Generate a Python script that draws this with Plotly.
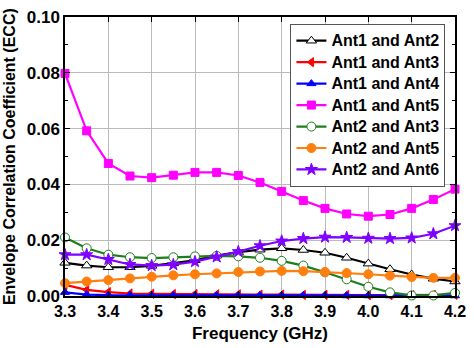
import plotly.graph_objects as go

freq = [3.30, 3.35, 3.40, 3.45, 3.50, 3.55, 3.60, 3.65, 3.70, 3.75,
        3.80, 3.85, 3.90, 3.95, 4.00, 4.05, 4.10, 4.15, 4.20]

ant1_ant2 = [0.0119, 0.0109, 0.0103, 0.0103, 0.0108, 0.0117, 0.0128, 0.0145, 0.0157, 0.0166,
             0.0171, 0.0165, 0.0155, 0.0137, 0.0116, 0.0096, 0.0077, 0.0062, 0.0052]
ant1_ant3 = [0.0040, 0.0022, 0.0014, 0.0009, 0.0008, 0.0007, 0.0007, 0.0006, 0.0006, 0.0005,
             0.0005, 0.0004, 0.0004, 0.0004, 0.0003, 0.0003, 0.0003, 0.0004, 0.0004]
ant1_ant4 = [0.0013, 0.0005, 0.0003, 0.0003, 0.0002, 0.0002, 0.0002, 0.0002, 0.0002, 0.0002,
             0.0002, 0.0002, 0.0002, 0.0001, 0.0001, 0.0001, 0.0001, 0.0001, 0.0001]
ant1_ant5 = [0.0798, 0.0592, 0.0475, 0.0430, 0.0424, 0.0433, 0.0443, 0.0443, 0.0432, 0.0407,
             0.0375, 0.0342, 0.0314, 0.0294, 0.0286, 0.0292, 0.0314, 0.0346, 0.0383]
ant2_ant3 = [0.0210, 0.0171, 0.0148, 0.0139, 0.0136, 0.0139, 0.0142, 0.0144, 0.0142, 0.0137,
             0.0126, 0.0109, 0.0085, 0.0060, 0.0033, 0.0013, 0.0002, 0.0002, 0.0011]
ant2_ant5 = [0.0046, 0.0052, 0.0057, 0.0063, 0.0069, 0.0074, 0.0078, 0.0081, 0.0086, 0.0088,
             0.0090, 0.0089, 0.0086, 0.0082, 0.0078, 0.0073, 0.0068, 0.0065, 0.0065]
ant2_ant6 = [0.0148, 0.0148, 0.0131, 0.0113, 0.0109, 0.0112, 0.0123, 0.0140, 0.0159, 0.0180,
             0.0197, 0.0206, 0.0211, 0.0210, 0.0207, 0.0206, 0.0208, 0.0223, 0.0252]

x_ticks = [3.3, 3.4, 3.5, 3.6, 3.7, 3.8, 3.9, 4.0, 4.1, 4.2]
y_ticks = [0.00, 0.02, 0.04, 0.06, 0.08, 0.10]
y_minor = [0.01, 0.03, 0.05, 0.07, 0.09]

series = [
    ("Ant1 and Ant2", ant1_ant2, "#000000", "triangle-up", "white", 9),
    ("Ant1 and Ant3", ant1_ant3, "#FF0000", "triangle-left", None, 8),
    ("Ant1 and Ant4", ant1_ant4, "#0000FF", "triangle-up", None, 8),
    ("Ant1 and Ant5", ant1_ant5, "#FF00FF", "square", None, 8),
    ("Ant2 and Ant3", ant2_ant3, "#1E7D1E", "circle", "white", 9),
    ("Ant2 and Ant5", ant2_ant5, "#FF7F0E", "circle", None, 9),
    ("Ant2 and Ant6", ant2_ant6, "#7F00FF", "star", None, 9),
]

fig = go.Figure()
for name, vals, color, sym, fill, size in series:
    fig.add_trace(go.Scatter(
        x=freq, y=vals, name='<span style="font-size:16px">' + name + '</span>',
        mode="lines+markers",
        line=dict(color=color, width=2.2),
        marker=dict(symbol=sym, size=size, color=fill if fill else color,
                    line=dict(color=color, width=1)),
        cliponaxis=False,
    ))

font_family = "Liberation Sans, Arial, sans-serif"
fig.update_layout(
    width=474, height=348,
    margin=dict(l=65, r=14, t=8, b=49),
    paper_bgcolor="white", plot_bgcolor="white",
    font=dict(family=font_family, color="black", size=15, weight="bold"),
    showlegend=True,
    legend=dict(
        x=0.578, y=0.975, xanchor="left", yanchor="top",
        bgcolor="white", bordercolor="#555555", borderwidth=1,
        font=dict(family=font_family, size=14.2, color="black", weight="bold"),
        tracegroupgap=0, itemwidth=30,
    ),
    annotations=[dict(
        text="Envelope Correlation Coefficient (ECC)", textangle=-90,
        xref="paper", yref="paper", x=-0.142, y=0.5,
        xanchor="center", yanchor="middle", showarrow=False,
        font=dict(family=font_family, size=16, color="black", weight="bold"),
    )],
)
fig.update_xaxes(
    range=[3.3, 4.2], tickvals=x_ticks,
    tickformat=".1f", showgrid=True, gridcolor="#BBBBBB", gridwidth=1,
    showline=True, linecolor="black", linewidth=1.5, mirror="ticks",
    ticks="inside", ticklen=5, tickcolor="black",
    tickfont=dict(size=16, weight="bold"),
    title=dict(text="Frequency (GHz)", font=dict(size=17, weight="bold"), standoff=8),
    zeroline=False,
)
fig.update_yaxes(
    range=[0, 0.10], tickvals=y_ticks,
    tickformat=".2f", showgrid=True, gridcolor="#BBBBBB", gridwidth=1,
    showline=True, linecolor="black", linewidth=1.5, mirror="ticks",
    ticks="inside", ticklen=5, tickcolor="black",
    minor=dict(tickvals=y_minor, ticks="inside", ticklen=3,
               tickcolor="black", showgrid=False),
    tickfont=dict(size=17, weight="bold"),
    zeroline=False,
)

fig.write_html("out.html")
